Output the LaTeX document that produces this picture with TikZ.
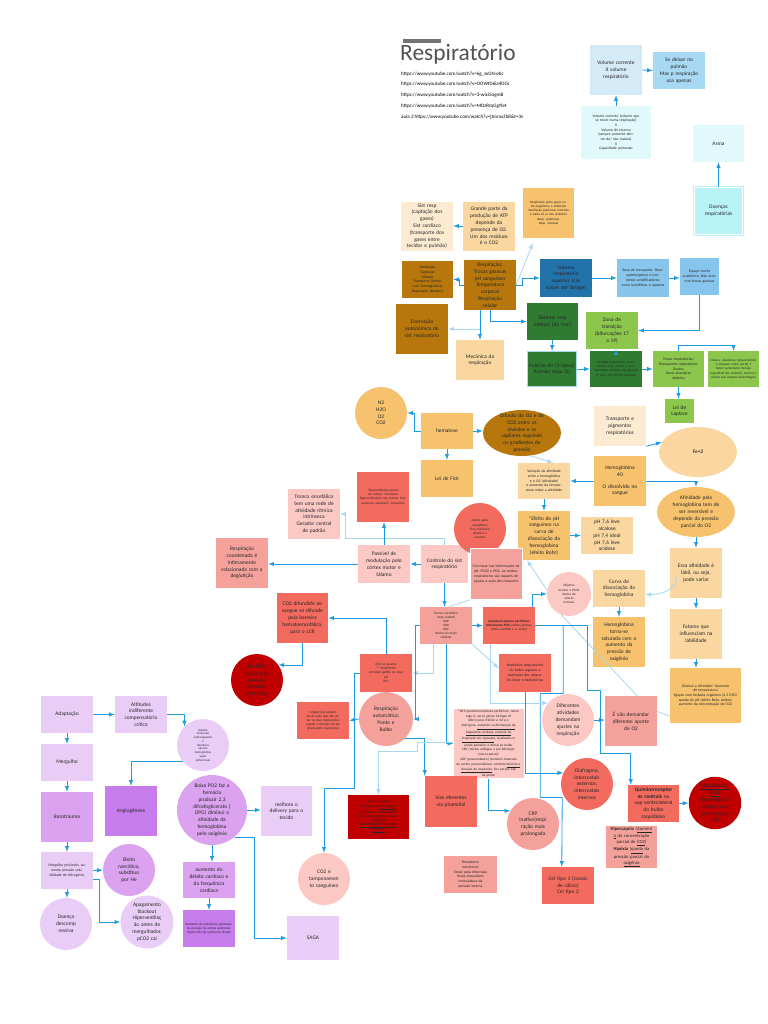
\documentclass[tikz,border=0pt]{standalone}
\usepackage{fontspec}
\setmainfont{Carlito}
\usepackage{xcolor}
\usetikzlibrary{shapes.geometric,calc}

\definecolor{lnblue}{HTML}{1E9BE2}
\definecolor{lnlight}{HTML}{A9D7F2}
\definecolor{peachl}{HTML}{FDEBD1}
\definecolor{peach}{HTML}{FAD7A1}
\definecolor{orng}{HTML}{F7C26E}
\definecolor{brwn}{HTML}{B7770D}
\definecolor{dblue}{HTML}{2373AB}
\definecolor{lblue}{HTML}{88C5EC}
\definecolor{dgreen}{HTML}{2E7B31}
\definecolor{lgreen}{HTML}{8CC64C}
\definecolor{pinkl}{HTML}{FCC8C4}
\definecolor{salmon}{HTML}{F5A19B}
\definecolor{coral}{HTML}{F26B5E}
\definecolor{dred}{HTML}{C00000}
\definecolor{purl}{HTML}{EACDF7}
\definecolor{purm}{HTML}{DAA2EF}
\definecolor{purd}{HTML}{C77CEB}
\definecolor{skyl}{HTML}{D5EAF7}
\definecolor{sky}{HTML}{A7D9F3}
\definecolor{cyanl}{HTML}{E2F9FB}
\definecolor{cyanm}{HTML}{B7F3F7}

\newcommand{\txa}{\fontsize{4.6}{5.8}\selectfont}
\newcommand{\txb}{\fontsize{4}{4.8}\selectfont}
\newcommand{\txc}{\fontsize{3.2}{4}\selectfont}
\newcommand{\txd}{\fontsize{2.8}{3.5}\selectfont}
\newcommand{\txe}{\fontsize{2.6}{3.2}\selectfont}
\newcommand{\txn}{\fontsize{2.9}{4.1}\selectfont}

\begin{document}
\begin{tikzpicture}[x=0.03cm,y=-0.03cm,>=latex,
  bx/.style={rectangle,inner sep=1pt,align=center,minimum width=1.56cm,text width=1.44cm,text=black!85,font=\txa},
  cr/.style={circle,inner sep=0pt,align=center,minimum size=1.56cm,text width=1.1cm,text=black!85,font=\txa},
  elli/.style={ellipse,inner sep=0pt},
  ln/.style={draw=lnblue,line width=0.7pt,->},
  lnl/.style={draw=lnlight,line width=0.7pt}]
\useasboundingbox (0,0) rectangle (768,1024);
\fill[white] (0,0) rectangle (768,1024);

\fill[black!55] (403,39) rectangle (441,43);
\node[anchor=west,inner sep=0pt,font=\fontsize{20}{22}\selectfont,text=black!68] (title) at (400,54) {Respiratório};
\node[anchor=west,inner sep=0pt,font=\fontsize{4.3}{5}\selectfont] (l1) at (401,74) {https://www.youtube.com/watch?v=6g\_sxGN-ebc};
\node[anchor=west,inner sep=0pt,font=\fontsize{4.3}{5}\selectfont] (l2) at (401,84.5) {https://www.youtube.com/watch?v=OOWtD6ia4DGs};
\node[anchor=west,inner sep=0pt,font=\fontsize{4.3}{5}\selectfont] (l3) at (401,95) {https://www.youtube.com/watch?v=3-wixi5ogmB};
\node[anchor=west,inner sep=0pt,font=\fontsize{4.3}{5}\selectfont] (l4) at (401,106) {https://www.youtube.com/watch?v=MDzRrqGgYb4};
\node[anchor=west,inner sep=0pt,font=\fontsize{4.3}{5}\selectfont] (l5) at (401,117) {aula 2 https://www.youtube.com/watch?v=jtmrxvZb8\&t=3s};

\node[bx,fill=skyl,minimum height=1.5cm] (vol) at (616,70) {Volume corrente\\X volume\\respiratório};
\node[bx,fill=sky,minimum height=1.11cm] (sed) at (679,70.5) {Se deixar no\\pulmão\\Mas p respiração\\usa apenas};
\node[bx,fill=cyanl,minimum width=2.1cm,text width=1.5cm,minimum height=1.59cm,font=\txc] (vold) at (616,132.5) {Volume corrente (volume que se move numa respiração)\\X\\Volume de reserva (sempre presente dentro do/ não inalará)\\X\\Capacidade pulmonar};
\node[bx,fill=cyanl,minimum width=1.53cm,minimum height=1.11cm] (asma) at (718.5,143.5) {Asma};
\node[bx,fill=cyanm,draw=cyanm,double=white,double distance=0.5pt,line width=1.2pt,minimum width=1.43cm,text width=1.3cm,minimum height=1.4cm] (doen) at (718.5,211) {Doenças\\respiratórias};

\node[bx,fill=peachl,minimum height=1.47cm] (sist) at (427,226) {Sist resp\\(captação dos\\gases)\\Sist cardíaco\\(transporte dos\\gases entre\\tecidos e pulmão)};
\node[bx,fill=peach,minimum height=1.47cm] (gran) at (489,226) {Grande parte da\\produção de ATP\\depende da\\presença de O2.\\Um dos resíduos\\é o CO2};
\node[bx,fill=orng,minimum width=1.53cm,minimum height=1.5cm,font=\txd] (rgas) at (548.5,213) {Respiração pelos gases entre organismo e ambiente\\*Ventilação pulmonar (entrada e saída do ar dos alvéolos)\\*Resp. pulmonar\\*Resp. tecidual};
\node[bx,fill=brwn,minimum width=1.53cm,minimum height=1.11cm,font=\txc] (vent) at (427.5,279.5) {Ventilação\\Captação\\Difusão\\Transporte (hemácias/ hemoglobina)\\Respiração (tecidos)};
\node[bx,fill=brwn,minimum height=1.5cm] (resp) at (490,285) {Respiração:\\Trocas gasosas\\pH sanguíneo\\Temperatura\\corporal\\Respiração\\celular};
\node[bx,fill=brwn,minimum height=1.5cm] (ener) at (422,329) {Enervação\\autonômica do\\sist respiratório};
\node[bx,fill=peach,minimum width=1.44cm,text width=1.3cm,minimum height=1.2cm] (mec) at (480,360) {Mecânica da\\respiração};

\node[bx,fill=dblue,minimum height=1.14cm] (sup) at (566,278) {Sistema\\respiratório\\superior (cav\\nasais até laringe)};
\node[bx,fill=lblue,minimum height=1.14cm,font=\txc] (ztr) at (643,278) {Zona de transporte: Bronquíolos(pelos) e (cornetos) umidificadores;\\*muco (umidificar e aquecer};
\node[bx,fill=lblue,minimum width=1.17cm,text width=1.05cm,minimum height=1.11cm,font=\txc] (esp) at (699.5,276.5) {Espaço morto anatômico, Não ocorrem trocas gasosas};
\node[bx,fill=dgreen,minimum width=1.53cm,minimum height=1.11cm] (inf) at (552.5,321.5) {Sistema resp\\inferior (da trac)};
\node[bx,fill=lgreen,minimum height=1.11cm] (ztn) at (612,330.5) {Zona de\\transição\\(bifurcações 17\\a 19)};
\node[bx,fill=dgreen,draw=lnlight,line width=1pt,minimum width=1.47cm,text width=1.42cm,inner sep=0.5pt,minimum height=1.05cm] (pul) at (552,369) {Pulmão dir (3 lobos)\\Pulmão esqu (2)};
\node[bx,fill=dgreen,minimum height=1.08cm,font=\txd] (uni) at (616,369) {Unidade respiratória: bronquíolos resp, ductos e sacos alveolares, alvéolos (da geração 17 até a 23) (22-23 gerações)};
\node[bx,fill=lgreen,minimum width=1.53cm,minimum height=1.08cm,font=\txc] (troc) at (678.5,369) {Trocas respiratórias:\\*Bronquíolos respiratórios\\*Ductos\\*Sacos alveolares\\*alvéolos};
\node[bx,fill=lgreen,minimum width=1.53cm,minimum height=1.08cm,font=\txd] (cel) at (733.5,369) {Células: alveolares (pneumócitos) 1 (ocupam maior parte) 2 fazem surfactante (tensão superficial dos alvéolos, menos) e células que limpam (macrófagos)};
\node[bx,fill=lgreen,minimum width=0.87cm,text width=0.8cm,minimum height=0.72cm] (lap) at (679.5,411) {Lei de\\Laplace};

\node[cr,fill=orng] (gas) at (381,413) {N2\\H2O\\O2\\CO2};
\node[bx,fill=orng,minimum height=1.08cm] (hem) at (447,431) {hematose};
\node[elli,fill=brwn,minimum width=2.34cm,minimum height=1.38cm,label={[font=\txa,align=center,text width=1.8cm,text=black!85]center:Difusão do O2 e do\\CO2 entre os\\alvéolos e os\\capilares seguindo\\os gradientes de\\pressão}] (dif) at (522,433) {};
\node[bx,fill=orng,minimum height=1.11cm] (fick) at (447,478.5) {Lei de Fick};
\node[bx,fill=peachl,minimum height=1.2cm] (trp) at (620,426) {Transporte e\\pigmentos\\respiratórios};
\node[elli,fill=peach,minimum width=2.34cm,minimum height=1.5cm,font=\txa] (fe) at (698,452) {Fe+2};
\node[bx,fill=peach,minimum height=1.08cm,font=\txc] (var) at (544,481) {Variação da afinidade entre a hemoglobina e o O2 (afinidade)\\*o aumento da temperatura reduz a afinidade};
\node[bx,fill=orng,minimum height=1.5cm] (hb) at (620,481) {Hemoglobina\\4O\\[4pt]O dissolvido no\\sangue};
\node[elli,fill=orng,minimum width=2.34cm,minimum height=1.5cm,label={[font=\txa,align=center,text width=1.8cm,text=black!85]center:Afinidade pela\\hemoglobina tem de\\ser reversível e\\depende da pressão\\parcial do O2}] (afi) at (696,512) {};
\node[bx,fill=orng,minimum height=1.47cm] (efp) at (544,535.5) {*Efeito do pH\\sanguíneo na\\curva de\\dissociação da\\hemoglobina\\(efeito Bohr)};
\node[bx,fill=peach,minimum height=1.11cm] (ph) at (607,535.5) {pH 7,6 leve\\alcalose\\pH 7,4 ideal\\pH 7,6 leve\\acidose};
\node[bx,fill=peach,minimum height=1.5cm] (essa) at (696,573) {Essa afinidade é\\lábil, ou seja,\\pode variar};
\node[bx,fill=peach,minimum height=1.11cm] (cur) at (619,588.5) {Curva de\\dissociação da\\hemoglobina};
\node[bx,fill=orng,minimum height=1.5cm] (hbs) at (619,642) {Hemoglobina\\torna-se\\saturada com o\\aumento da\\pressão de\\oxigênio};
\node[bx,fill=peach,minimum height=1.5cm] (fat) at (696,634) {Fatores que\\influenciam na\\labilidade};
\node[bx,fill=orng,minimum width=2.13cm,text width=2cm,minimum height=1.65cm,font=\txc] (dim) at (705.5,695.5) {Diminui a afinidade:*Aumento de temperatura\\*ligação com fosfatos orgânicos (2,3 DPG)\\*queda do pH (efeito Bohr, ácidos)\\*aumento da concentração de CO2};

\node[bx,fill=pinkl,minimum width=1.41cm,text width=1.3cm,minimum height=1.14cm] (ctrl) at (444.5,564) {Controle do sist\\respiratório};
\node[bx,fill=pinkl,minimum height=1.14cm] (pas) at (384,564) {Passível de\\modulação pelo\\córtex motor e\\tálamo};
\node[bx,fill=pinkl,minimum height=1.5cm] (trc) at (314,514) {Tronco encefálico\\tem uma rede de\\atividade rítmica\\intrínseca\\Gerador central\\de padrão};
\node[bx,fill=coral,minimum height=1.5cm,font=\txd] (hip) at (383,497) {*hipoventilação/apneia de curta(!) voluntária\\*hiperventilação/ não manter freq; preservar alvéolos(!) voluntária};
\node[bx,fill=salmon,minimum height=1.5cm] (coord) at (242,563) {Respiração\\coordenada é\\intimamente\\relacionada com a\\deglutição};
\node[cr,fill=coral,font=\txd] (alt) at (480,529) {alterar gatos\\energéticos\\freq mecânica\\Química e\\nervoso};
\node[bx,fill=salmon,draw=white,line width=0.8pt,minimum height=1.53cm,font=\txc] (com) at (496,574) {Com base nas informações de pH, PCO2 e PO2, os centros respiratórios são capazes de ajustar a ação dos músculos};
\node[cr,fill=pinkl,minimum size=1.32cm,text width=0.95cm,font=\txd] (obj) at (569,594) {Objetivo\\manter a PCO2\\dentro de\\valores\\normais};
\node[bx,fill=coral,minimum width=1.53cm,minimum height=1.5cm] (cod) at (302.5,618) {CO2 difundido no\\sangue se difunde\\pela barreira\\hematoencefálica,\\para o LCR};
\node[cr,fill=dred] (hno) at (257,680) {H+ NÃO\\passa pela\\barreira\\hemato-\\encefálica};
\node[bx,fill=salmon,minimum height=1.11cm,font=\txd] (tce) at (446,625.5) {Tronco encefálico\\(resp central)\\*GRP\\*GRD\\*GRV\\*Núcleo do trato\\solitário};
\node[bx,fill=coral,minimum height=1.11cm,font=\txd] (qpe) at (509,625.5) {\textbf{Quimiorreceptores periféricos (Monitoram PO2)} células glomus (entre carótida e A. aorta)};
\node[bx,fill=coral,minimum height=1.14cm,font=\txc] (neu) at (525,673) {Neurônios respiratórios do bulbo regulam a contração dos músculos inspir e expiratórios};
\node[bx,fill=coral,minimum height=1.14cm,font=\txd] (cpl) at (386,673) {CO2 no plasma\\****(CO2)PCO2\\principal gatilho do resp\\*pH\\*(H+)};
\node[cr,fill=salmon,minimum size=1.62cm] (rau) at (386,719) {Respiração\\automática:\\Ponte e\\Bulbo};
\node[bx,fill=coral,minimum height=1.11cm,font=\txd] (ori) at (323,720.5) {*origem dos potenciais de ação que vão ativar os mus respiratórios\\*regular a duração do ato (inspiração) respiratório};
\node[bx,fill=pinkl,minimum width=2.1cm,text width=2cm,minimum height=2.01cm,font=\txn] (nts) at (488.5,743.5) {*NTS (quimiorreceptores periféricos, nervo\\vago X, nervo glosso faríngeo IX\\*GRD (nervo frênico e int p o\\diafragma, \underline{aumento ou diminuição da}\\\underline{frequência cardíaca; controle da}\\\underline{inspiração em repouso}), localizado na\\ponte posterior e dorsal ao bulbo\\*CRV (núcleo ambíguo e pré-bötzinger\\(marca-passo))\\*GRP (pneumotáxico) (também chamado\\de centro pneumotáxico), controla \underline{término e}\\\underline{duração da inspiração}, fica porção sup\\da ponte};
\node[cr,fill=pinkl] (dif2) at (568,720) {Diferentes\\atividades\\demandam\\ajustes na\\respiração};
\node[bx,fill=salmon,minimum height=1.5cm] (evao) at (631,721) {É vão demandar\\diferente aporte\\de O2};
\node[cr,fill=coral] (dia) at (587,784) {Diafragma,\\intercostais\\externos,\\intercostais\\internos};
\node[bx,fill=coral,minimum width=1.53cm,minimum height=1.11cm] (qce) at (653.5,803.5) {\textbf{Quimiorreceptor}\\\textbf{es centrais} na\\sup ventrolateral\\do bulbo\\raquidiano};
\node[cr,fill=dred] (mon) at (715,803) {\underline{Monitoram o}\\\underline{CO2}\\difundido no\\sangue que\\passa para o\\LCR};
\node[bx,fill=salmon,minimum width=1.53cm,minimum height=1.14cm,font=\txb] (hcp) at (631.5,847) {\textbf{Hipercapnia} (\underline{Aument}\\\underline{o} da concentração\\parcial de \underline{CO2})\\\textbf{Hipóxia} (\underline{queda} da\\pressão parcial do\\\underline{oxigênio}};
\node[cr,fill=salmon] (crp) at (533,824) {CRP\\inativo(respi\\ração mais\\prolongada};
\node[bx,fill=coral,minimum height=1.11cm] (cel1) at (568,885.5) {Cel tipo 1 (canais\\de cálcio)\\Cel tipo 2};
\node[bx,fill=coral,minimum height=1.53cm] (vias) at (451,801.5) {Vias eferentes\\via piramidal};
\node[bx,fill=dred,minimum width=1.83cm,text width=1.72cm,minimum height=1.32cm,font=\txd] (crg) at (378.5,817) {CRG 3 camadas\\*Pré-botzinger (\underline{ritmicidade})\\*CRV rostral (inspiração ativa)\\*CRV caudal (expiração ativa e\\ventilação)\\\underline{CRV FAZ PARTE DO GRUPO}\\\underline{VENTRAL}};
\node[bx,fill=salmon,minimum width=1.59cm,minimum height=1.11cm,font=\txc] (rmec) at (470.5,874.5) {Receptores\\mecânicos\\*limiar para distensão\\*fusos musculares\\*musculatura da pressão interna};
\node[cr,fill=pinkl] (tamp) at (324,879) {CO2 e\\tamponamen\\to sanguíneo};

\node[bx,fill=purl,minimum height=1.11cm] (adp) at (67,714.5) {Adaptação};
\node[bx,fill=purl,minimum height=1.11cm] (altd) at (141,714.5) {Altitudes\\*indiferente\\*compensatório\\*crítico};
\node[cr,fill=purl,font=\txe] (hpx) at (203,745) {Hipóxia\\molecular\\anticoagulante\\e\\Hemácias\\elevam\\hemoglobina\\super\\deformável};
\node[bx,fill=purl,minimum height=1.11cm] (mrg) at (67,762.5) {Mergulho};
\node[bx,fill=purm,minimum height=1.5cm] (bar) at (67,817) {Barotrauma};
\node[bx,fill=purd,minimum height=1.5cm] (ang) at (131,811) {Angiogênese};
\node[cr,fill=purm,minimum size=2.1cm,text width=1.4cm] (bpo) at (212,810) {Baixa PO2 faz a\\hemácia\\produzir 2,3\\difosfoglicerato (\\DPG) diminui a\\afinidade da\\hemoglobina\\pelo oxigênio};
\node[bx,fill=purl,minimum width=1.53cm,minimum height=1.5cm] (mel) at (286.5,811) {melhora o\\delivery para o\\tecido};
\node[bx,fill=purl,minimum height=1.11cm,font=\txc] (mpr) at (67,870.5) {Mergulho profundo, aumenta pressão solubilidade do Nitrogênio};
\node[cr,fill=purm] (nar) at (129,870) {Efeito\\narcótico,\\substituo\\por He};
\node[bx,fill=purm,minimum height=1.08cm] (deb) at (209,880) {aumento do\\débito cardíaco e\\da frequência\\cardíaca};
\node[cr,fill=purl] (doe) at (66,924) {Doença\\descomp\\ressiva};
\node[cr,fill=purl] (apa) at (147,922) {Apagamento\\blackout\\Hiperventilaç\\ão antes de\\mergulhador,\\pCO2 cai};
\node[bx,fill=purd,minimum height=1.11cm,font=\txd] (res) at (209,928.5) {Aumento da resistência pulmonar, da pressão na artéria pulmonar, Hipertrofia do ventrículo direito};
\node[bx,fill=purl,minimum height=1.32cm] (saga) at (313,938) {SAGA};

\draw[ln] (vold.north) -- (vol.south);
\draw[ln] (vol.east) -- (sed.west);
\draw[ln] (doen.north) -- (asma.south);
\draw[ln] (gran.west) -- (sist.east);
\draw[ln] (resp.west) -- ++(-4,0) |- (vent.east);
\draw[lnl,->] (resp.east) -- ($(rgas.south west)+(10,5)$);
\draw[ln] (resp.east) -- ++(6,0) |- (sup.west);
\draw[ln] (resp.south) |- (inf.west);
\draw[lnl,->] (mec.north |- resp.south) |- (ener.east);
\draw[ln] (mec.north |- resp.south) -- (mec.north);
\draw[ln] (sup.east) -- (ztr.west);
\draw[ln] (ztr.east) -- (ztr.east -| esp.west);
\draw[ln] (esp.south) |- (ztn.east);
\draw[ln] (inf.south) -- (pul.north);
\draw[ln] (pul.east) -- (uni.west);
\draw[ln] (uni.north) -- (uni.north |- ztn.south);
\draw[ln] (uni.east) -- (troc.west);
\draw[ln] (troc.north) -- ++(0,-5) -| (cel.north);
\draw[ln] (troc.south) -- (troc.south |- lap.north);

\draw[ln] (hem.west) -- ++(-6,0) |- (gas.east);
\draw[ln] (hem.east) -- (hem.east -| dif.west);
\draw[ln] (hem.south) -- (fick.north);
\draw[lnl,->] (dif.-70) -- ($(var.north)+(9,0)$);
\draw[ln] (trp.south east) -- (fe.165);
\draw[ln] (hb.west) -- (var.east);
\draw[ln] (hb.east) -| (afi.north);
\draw[ln] (var.south) -- (efp.north);
\draw[ln] (afi.south) -- (essa.north);
\draw[ln] (efp.east) -- (ph.west);
\draw[lnl,->] ($(essa.west)+(7,4)$) to[out=-90,in=0] ($(cur.east)+(0,6)$);
\draw[ln] (cur.south) -- (hbs.north);
\draw[ln] (essa.south) -- (fat.north);
\draw[ln] (fat.south) -- (fat.south |- dim.north);

\draw[ln] (ctrl.west) -- (pas.east);
\draw[lnl,->] (ctrl.north) -- ++(0,-6) -| ($(trc.east)+(5,0)$) -- (trc.east);
\draw[ln] (pas.north) -- (pas.north |- hip.south);
\draw[ln] (pas.west) -- (pas.west -| coord.east);
\draw[ln] (ctrl.south) -- (ctrl.south |- tce.north);
\draw[lnl] (com.south west) -- ($(tce.north)+(3,0)$);
\draw[ln] (tce.east) -- (qpe.west);
\draw[lnl,->] (tce.south east) -- (neu.170);
\draw[lnl,->] ($(tce.south)+(-13,0)$) |- (cpl.east);
\draw[ln] (tce.west) -- ++(-4,0) |- (rau.east);
\draw[ln] (tce.south) |- (nts.west);
\draw[ln] (cpl.north) |- (cod.east);
\draw[ln] (cod.south) |- (hno.35);
\draw[ln] (rau.west) -- (ori.east);
\draw[ln] (cpl.west) -- ++(-5,0) -- ++(0,115) -| (tamp.north);
\draw[ln] (rau.-45) -| (vias.north west);
\draw[lnl,->] ($(nts.west)+(0,-1)$) -- ++(-36,0) -- ++(0,9) -| (crg.north);
\draw[ln] (nts.south) |- (crp.150);
\draw[ln] ($(qpe.north)+(23,0)$) |- (obj.west);
\draw[lnl,->] (obj.170) -- ($(efp.south)+(-17,0)$);
\draw[lnl] (obj.-110) -- ($(evao.north)+(6,0)$);
\draw[lnl] (dim.210) -- (evao.20);
\draw[ln] (qpe.east) -- ++(52,0) -- ++(0,65) -- ++(13,0) -- ++(0,63) -| ($(qce.north west)+(3,0)$);
\draw[ln] ($(qpe.east)+(28,0)$) -- ++(0,68) -- ++(-23,0) -- ++(0,104) -- ++(22,0) -- ($(cel1.north west)+(20,0)$);
\draw[lnl,->] ($(qpe.south)+(-19,0)$) |- (dif2.140);
\draw[ln] (neu.south) |- (dia.155);
\draw[ln] (qce.east) -- (mon.west);
\draw[ln] (dif2.east) -- (dif2.east -| evao.west);

\draw[ln] (adp.east) -- (altd.west);
\draw[ln] (altd.east) -| (hpx.135);
\draw[ln] (adp.south) -- (mrg.north);
\draw[ln] (mrg.south) -- (bar.north);
\draw[ln] (bar.south) -- (mpr.north);
\draw[ln] (hpx.-140) -| (ang.north);
\draw[ln] (mpr.east) -- (nar.west);
\draw[ln] (mpr.south) -- (mpr.south |- doe.north);
\draw[ln] ($(mpr.east)+(0,9)$) -- ++(6,0) |- (apa.west);
\draw[ln] (bpo.east) -- (bpo.east -| mel.west);
\draw[ln] (bpo.south) -- (bpo.south |- deb.north);
\draw[ln] (deb.south) -- (res.north);
\draw[ln] (bpo.-50) -- ++(20,0) |- (saga.west);
\end{tikzpicture}
\end{document}
